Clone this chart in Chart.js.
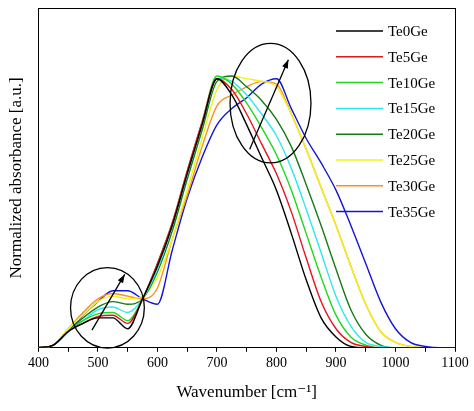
<!DOCTYPE html><html><head><meta charset="utf-8">
<script src="https://cdn.jsdelivr.net/npm/chart.js@4"></script>
<style>html,body{margin:0;background:#fff}#w{width:474px;height:411px}</style></head><body><div id="w"><canvas id="c"></canvas></div>
<script>
const wavenumbers=[400,425,450,475,500,525,550,575,600,625,650,675,700,725,750,775,800,825,850,875,900,925,950,975,1000,1025,1050,1075,1100];
const labels=['Te0Ge','Te5Ge','Te10Ge','Te15Ge','Te20Ge','Te25Ge','Te30Ge','Te35Ge'];
const colors=['#000000','#e8141c','#1ed81e','#2ee8ec','#167a16','#f2f21a','#f59321','#1414d8'];
const te0=[0,0.01,0.06,0.09,0.11,0.11,0.07,0.18,0.3,0.45,0.64,0.82,0.99,0.93,0.82,0.70,0.58,0.42,0.25,0.11,0.04,0.005,0,0,0,0,0,0,0];
const te5=[0,0.01,0.06,0.09,0.115,0.12,0.09,0.18,0.31,0.46,0.65,0.83,0.99,0.95,0.86,0.75,0.64,0.50,0.33,0.17,0.07,0.02,0.005,0,0,0,0,0,0];
const te10=[0,0.01,0.06,0.10,0.125,0.13,0.10,0.18,0.31,0.46,0.65,0.83,1.0,0.97,0.90,0.81,0.71,0.58,0.42,0.26,0.12,0.04,0.01,0,0,0,0,0,0];
const te15=[0,0.01,0.06,0.10,0.14,0.15,0.13,0.18,0.29,0.45,0.64,0.82,0.99,0.98,0.93,0.86,0.78,0.66,0.51,0.35,0.19,0.08,0.02,0.005,0,0,0,0,0];
const te20=[0,0.01,0.06,0.11,0.15,0.17,0.16,0.18,0.28,0.43,0.62,0.80,0.98,1.0,0.96,0.91,0.84,0.74,0.60,0.45,0.29,0.14,0.05,0.01,0,0,0,0,0];
const te25=[0,0.01,0.07,0.12,0.17,0.19,0.18,0.19,0.26,0.40,0.58,0.77,0.95,1.0,0.99,0.98,0.96,0.86,0.73,0.59,0.45,0.30,0.16,0.06,0.02,0.005,0,0,0];
const te30=[0,0.01,0.07,0.13,0.18,0.20,0.19,0.18,0.22,0.40,0.56,0.74,0.89,0.93,0.96,0.98,0.97,0.86,0.73,0.59,0.45,0.30,0.16,0.06,0.02,0.005,0,0,0];
const te35=[0,0.01,0.06,0.12,0.17,0.21,0.21,0.18,0.16,0.36,0.55,0.70,0.82,0.88,0.92,0.97,0.99,0.88,0.77,0.68,0.58,0.45,0.31,0.17,0.07,0.02,0.005,0,0];
const series=[te0,te5,te10,te15,te20,te25,te30,te35];
const xTicks=[400,500,600,700,800,900,1000,1100];
const FONT='"Liberation Serif", "DejaVu Serif", serif';
const overlay={id:'ov',afterDraw(ch){
 const c=ch.ctx,x=ch.scales.x,y=ch.scales.y;
 c.save();c.strokeStyle='#000';c.lineWidth=1.3;
 const ell=(cx,cy,rx,ry)=>{const px=x.getPixelForValue(cx),py=y.getPixelForValue(cy);c.beginPath();c.ellipse(px,py,Math.abs(x.getPixelForValue(cx+rx)-px),Math.abs(y.getPixelForValue(cy+ry)-py),0,0,2*Math.PI);c.stroke();};
 ell(516,0.147,62,0.148);ell(790,0.90,68,0.22);
 const arr=(a,b,cc,d)=>{const x1=x.getPixelForValue(a),y1=y.getPixelForValue(b),x2=x.getPixelForValue(cc),y2=y.getPixelForValue(d);c.beginPath();c.moveTo(x1,y1);c.lineTo(x2,y2);c.stroke();const an=Math.atan2(y2-y1,x2-x1);c.beginPath();c.moveTo(x2,y2);c.lineTo(x2-9*Math.cos(an-0.35),y2-9*Math.sin(an-0.35));c.lineTo(x2-9*Math.cos(an+0.35),y2-9*Math.sin(an+0.35));c.closePath();c.fillStyle='#000';c.fill();};
 arr(490,0.065,545,0.27);arr(755,0.73,820,1.06);
 c.font='15px '+FONT;c.textBaseline='middle';
 labels.forEach((l,i)=>{const yy=31+i*25.8;c.strokeStyle=colors[i];c.lineWidth=1.5;c.beginPath();c.moveTo(336,yy);c.lineTo(383,yy);c.stroke();c.fillStyle='#000';c.fillText(l,388,yy+1);});
 c.restore();}};
new Chart(document.getElementById('c'),{type:'line',
 data:{labels:wavenumbers,datasets:series.map((s,i)=>({label:labels[i],data:s.map((v,j)=>({x:wavenumbers[j],y:v})),borderColor:colors[i],borderWidth:1.4,pointRadius:0,cubicInterpolationMode:'monotone',fill:false}))},
 options:{animation:false,responsive:true,maintainAspectRatio:false,
  layout:{padding:{left:2,right:11,top:0,bottom:4}},
  plugins:{legend:{display:false},tooltip:{enabled:false}},
  scales:{
   x:{type:'linear',min:400,max:1100,border:{color:'#000',width:1},grid:{display:true,drawOnChartArea:false,color:'#000',tickLength:4},
      afterBuildTicks:a=>{const t=[];for(let v=400;v<=1100;v+=50)t.push({value:v});a.ticks=t;},
      ticks:{autoSkip:false,maxRotation:0,color:'#000',font:{family:FONT,size:14},callback:v=>xTicks.includes(v)?String(v):''},
      title:{display:true,text:'Wavenumber [cm\u207B\u00B9]',color:'#000',font:{family:FONT,size:17},padding:{top:8}}},
   x2:{type:'linear',position:'top',min:400,max:1100,border:{color:'#000'},grid:{display:false},ticks:{display:false}},
   y:{min:0,max:1.25,border:{color:'#000'},grid:{display:false},ticks:{display:false},
      title:{display:true,text:'Normalized absorbance [a.u.]',color:'#000',font:{family:FONT,size:17},padding:{bottom:4}}},
   y2:{position:'right',min:0,max:1.25,border:{color:'#000'},grid:{display:false},ticks:{display:false}}
  }}, plugins:[overlay]});
</script></body></html>
